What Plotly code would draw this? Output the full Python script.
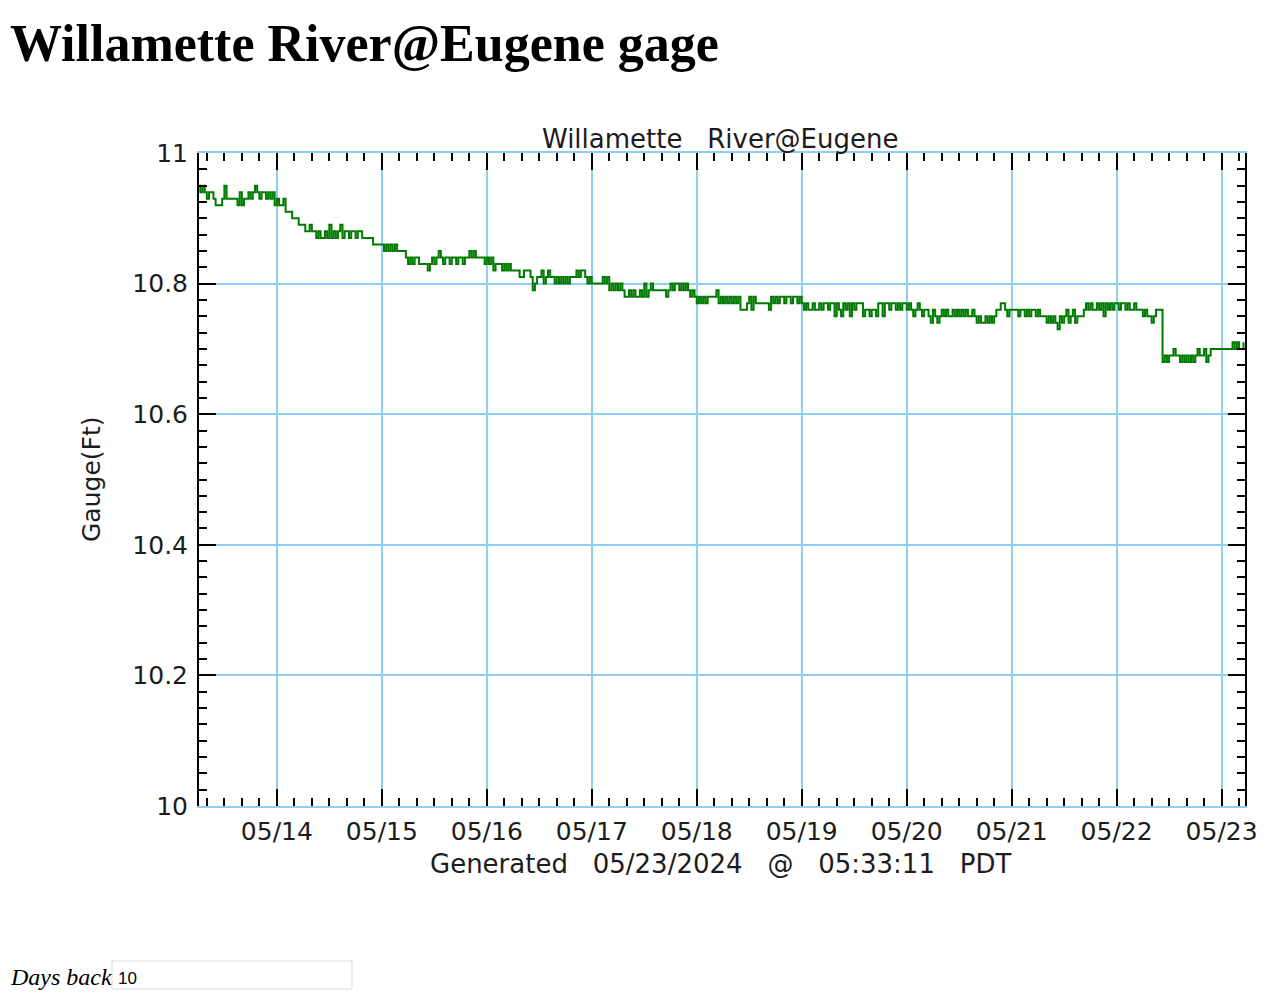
import pandas as pd
import plotly.graph_objects as go

# ---------------- data (gauge height in ft, 30-minute readings) ----------------
series_start = "2024-05-13 06:00"
sample_step = "30min"

day_0513 = [10.95, 10.94, 10.95, 10.94, 10.93, 10.94, 10.94, 10.93, 10.92, 10.92, 10.92, 10.93,
            10.95, 10.93, 10.93, 10.93, 10.93, 10.93, 10.92, 10.94, 10.92, 10.93, 10.93, 10.94,
            10.93, 10.94, 10.95, 10.94, 10.93, 10.94, 10.94, 10.93, 10.94, 10.93, 10.94, 10.92]
day_0514 = [10.93, 10.92, 10.92, 10.93, 10.91, 10.91, 10.91, 10.90, 10.90, 10.90, 10.89, 10.89,
            10.89, 10.88, 10.88, 10.89, 10.88, 10.88, 10.87, 10.88, 10.87, 10.87, 10.88, 10.87,
            10.89, 10.87, 10.88, 10.87, 10.88, 10.89, 10.87, 10.88, 10.88, 10.87, 10.88, 10.88,
            10.87, 10.88, 10.88, 10.87, 10.87, 10.87, 10.87, 10.87, 10.86, 10.86, 10.86, 10.86]
day_0515 = [10.86, 10.85, 10.86, 10.85, 10.86, 10.85, 10.86, 10.85, 10.85, 10.85, 10.85, 10.84,
            10.83, 10.84, 10.83, 10.84, 10.84, 10.83, 10.83, 10.83, 10.83, 10.82, 10.83, 10.84,
            10.83, 10.84, 10.85, 10.84, 10.83, 10.84, 10.84, 10.83, 10.84, 10.84, 10.83, 10.84,
            10.84, 10.83, 10.84, 10.84, 10.85, 10.84, 10.85, 10.84, 10.84, 10.84, 10.84, 10.83]
day_0516 = [10.84, 10.83, 10.84, 10.82, 10.83, 10.83, 10.83, 10.82, 10.83, 10.82, 10.83, 10.82,
            10.82, 10.82, 10.82, 10.81, 10.81, 10.82, 10.82, 10.82, 10.81, 10.79, 10.80, 10.81,
            10.81, 10.82, 10.80, 10.81, 10.82, 10.81, 10.81, 10.80, 10.81, 10.80, 10.81, 10.80,
            10.81, 10.80, 10.81, 10.81, 10.81, 10.82, 10.81, 10.82, 10.82, 10.81, 10.80, 10.81]
day_0517 = [10.80, 10.80, 10.80, 10.80, 10.80, 10.81, 10.80, 10.81, 10.79, 10.80, 10.79, 10.80,
            10.79, 10.80, 10.79, 10.78, 10.78, 10.79, 10.78, 10.79, 10.78, 10.78, 10.79, 10.78,
            10.80, 10.78, 10.79, 10.80, 10.79, 10.79, 10.79, 10.79, 10.79, 10.79, 10.78, 10.79,
            10.80, 10.79, 10.80, 10.80, 10.79, 10.80, 10.79, 10.80, 10.79, 10.78, 10.79, 10.78]
day_0518 = [10.77, 10.78, 10.77, 10.78, 10.77, 10.78, 10.78, 10.78, 10.78, 10.79, 10.77, 10.78,
            10.77, 10.78, 10.77, 10.78, 10.77, 10.78, 10.77, 10.78, 10.76, 10.76, 10.76, 10.77,
            10.78, 10.76, 10.78, 10.77, 10.77, 10.77, 10.77, 10.77, 10.77, 10.76, 10.78, 10.77,
            10.78, 10.77, 10.78, 10.78, 10.77, 10.78, 10.78, 10.77, 10.78, 10.78, 10.77, 10.78]
day_0519 = [10.77, 10.76, 10.77, 10.76, 10.76, 10.77, 10.76, 10.76, 10.77, 10.76, 10.77, 10.77,
            10.76, 10.77, 10.77, 10.75, 10.77, 10.76, 10.75, 10.77, 10.76, 10.77, 10.75, 10.77,
            10.76, 10.77, 10.77, 10.77, 10.75, 10.76, 10.76, 10.75, 10.76, 10.76, 10.75, 10.77,
            10.77, 10.75, 10.77, 10.77, 10.76, 10.77, 10.77, 10.76, 10.77, 10.76, 10.77, 10.77]
day_0520 = [10.76, 10.77, 10.76, 10.75, 10.76, 10.77, 10.76, 10.75, 10.76, 10.76, 10.75, 10.74,
            10.76, 10.75, 10.74, 10.75, 10.76, 10.75, 10.76, 10.75, 10.75, 10.76, 10.75, 10.76,
            10.75, 10.76, 10.75, 10.76, 10.75, 10.75, 10.76, 10.75, 10.74, 10.75, 10.74, 10.74,
            10.75, 10.74, 10.75, 10.74, 10.75, 10.76, 10.76, 10.77, 10.77, 10.76, 10.75, 10.76]
day_0521 = [10.76, 10.76, 10.76, 10.75, 10.76, 10.76, 10.75, 10.76, 10.75, 10.76, 10.76, 10.75,
            10.76, 10.75, 10.75, 10.75, 10.74, 10.75, 10.74, 10.75, 10.74, 10.73, 10.75, 10.74,
            10.75, 10.76, 10.74, 10.75, 10.76, 10.74, 10.75, 10.75, 10.75, 10.76, 10.77, 10.76,
            10.77, 10.76, 10.76, 10.77, 10.76, 10.77, 10.75, 10.77, 10.76, 10.77, 10.76, 10.77]
day_0522 = [10.77, 10.76, 10.77, 10.77, 10.76, 10.77, 10.76, 10.76, 10.77, 10.76, 10.76, 10.76,
            10.75, 10.76, 10.75, 10.75, 10.74, 10.75, 10.76, 10.76, 10.76, 10.68, 10.69, 10.68,
            10.69, 10.69, 10.70, 10.69, 10.69, 10.68, 10.69, 10.68, 10.69, 10.68, 10.69, 10.68,
            10.69, 10.70, 10.69, 10.69, 10.70, 10.68, 10.69, 10.70, 10.70, 10.70, 10.70, 10.70]
day_0523 = [10.70, 10.70, 10.70, 10.70, 10.70, 10.71, 10.70, 10.71, 10.70, 10.70, 10.71]

x_range = ["2024-05-13 06:12", "2024-05-23 05:21"]
y_range = [10, 11]
y_ticks = [10, 10.2, 10.4, 10.6, 10.8, 11]
y_tick_labels = ["10", "10.2", "10.4", "10.6", "10.8", "11"]

heading = "Willamette River@Eugene gage"
plot_title = "Willamette\u00a0\u00a0\u00a0River@Eugene"
y_title = "Gauge(Ft)"
caption = ("Generated\u00a0\u00a0\u00a005/23/2024\u00a0\u00a0\u00a0@\u00a0\u00a0\u00a0"
           "05:33:11\u00a0\u00a0\u00a0PDT")
days_back_label = "Days back"
days_back_value = "10"

# ---------------- build ----------------
gauge = (day_0513 + day_0514 + day_0515 + day_0516 + day_0517 + day_0518 +
         day_0519 + day_0520 + day_0521 + day_0522 + day_0523)
times = pd.date_range(series_start, periods=len(gauge), freq=sample_step)

# page has an 8px body margin; layout is expressed in page pixels, shifted by it
OFF = 8
W, H = 1280 - OFF, 998 - OFF
L, R, T, B = 199 - OFF, 1245 - OFF, 153 - OFF, 806 - OFF
PW, PH = R - L, B - T


def px(x):  # page x pixel -> paper
    return (x - OFF - L) / PW


def py(y):  # page y pixel -> paper
    return (B - (y - OFF)) / PH


GRID = "#8fcdf3"
TXT = "#1c1c1c"
SANS = "DejaVu Sans"

fig = go.Figure()
fig.add_trace(go.Scatter(
    x=times, y=gauge, mode="lines", line_shape="hv",
    line=dict(color="#007a00", width=2), hoverinfo="x+y", showlegend=False,
))

fig.update_layout(
    width=W, height=H,
    margin=dict(l=L, r=W - R, t=T, b=H - B, pad=0),
    paper_bgcolor="white", plot_bgcolor="white",
    font=dict(family=SANS, color=TXT, size=25),
    xaxis=dict(
        type="date", range=x_range, tickformat="%m/%d",
        tick0="2024-05-14", dtick=86400000,
        ticks="inside", ticklen=17, tickwidth=1.6, tickcolor="black",
        showgrid=True, gridcolor=GRID, gridwidth=1.8,
        showline=True, linecolor=GRID, linewidth=1.8, mirror="allticks",
        zeroline=False, ticklabelstandoff=2,
        tickfont=dict(family=SANS, size=25, color=TXT),
        minor=dict(ticks="inside", ticklen=8, tickwidth=1.5, tickcolor="black",
                   dtick=4 * 3600000, showgrid=False),
    ),
    yaxis=dict(
        range=y_range, tickvals=y_ticks, ticktext=y_tick_labels,
        ticks="inside", ticklen=17, tickwidth=1.6, tickcolor="black",
        showgrid=True, gridcolor=GRID, gridwidth=1.8,
        showline=True, linecolor="black", linewidth=2, mirror="allticks",
        zeroline=False, ticklabelstandoff=4,
        tickfont=dict(family=SANS, size=25, color=TXT),
        minor=dict(ticks="inside", ticklen=8, tickwidth=1.5, tickcolor="black",
                   dtick=0.025, tick0=10, showgrid=False),
    ),
)

ann = [
    dict(text="<b>" + heading + "</b>", x=px(OFF), y=py(44), xanchor="left", yanchor="middle",
         font=dict(family="Liberation Serif", size=52, color="black")),
    dict(text=plot_title, x=px(720), y=py(139), xanchor="center", yanchor="middle",
         font=dict(family=SANS, size=26, color=TXT)),
    dict(text=y_title, x=px(92), y=py(480), xanchor="center", yanchor="middle", textangle=-90,
         font=dict(family=SANS, size=25, color=TXT)),
    dict(text=caption, x=px(720), y=py(864), xanchor="center", yanchor="middle",
         font=dict(family=SANS, size=26, color=TXT)),
    dict(text="<i>" + days_back_label + "</i>", x=px(OFF), y=py(977), xanchor="left", yanchor="middle",
         font=dict(family="Liberation Serif", size=24, color="black")),
    dict(text=days_back_value, x=px(116), y=py(978), xanchor="left", yanchor="middle",
         font=dict(family="Liberation Sans", size=17, color="black")),
]
for a in ann:
    a.update(xref="paper", yref="paper", showarrow=False)
fig.update_layout(annotations=ann)

fig.update_layout(shapes=[
    dict(type="rect", xref="paper", yref="paper", x0=px(112), x1=px(352), y0=py(989), y1=py(961),
         line=dict(color="#d9d9d9", width=1), fillcolor="white", layer="below"),
])

fig.write_html("out.html")
